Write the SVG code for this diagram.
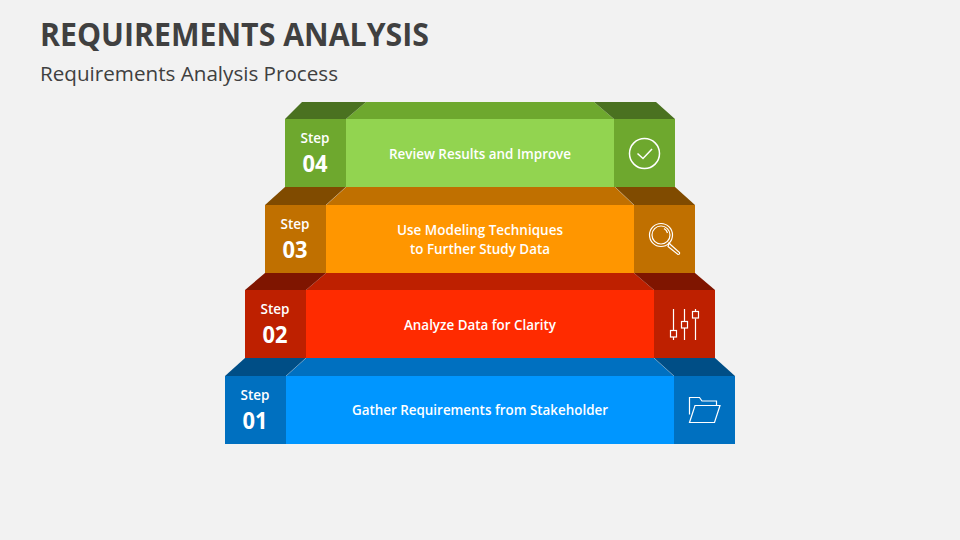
<svg xmlns="http://www.w3.org/2000/svg" width="960" height="540" viewBox="0 0 960 540">
<style>
text{font-family:"Open Sans","Noto Sans","Liberation Sans",sans-serif;fill:#fff;text-anchor:middle}
.title{font-size:32.5px;font-weight:700;fill:#404040;text-anchor:start}
.sub{font-size:20px;fill:#404040;text-anchor:start}
.step{font-size:14px;font-weight:600}
.num{font-size:22.5px;font-weight:700}
.lab{font-size:14px;font-weight:600}
.ic{fill:none;stroke:#fff;stroke-width:1.2}
.seam{stroke:#fff;stroke-opacity:.35;stroke-width:.7;fill:none}
</style>
<rect width="960" height="540" fill="#f2f2f2"/>
<text class="title" x="40" y="46" textLength="389" lengthAdjust="spacingAndGlyphs">REQUIREMENTS ANALYSIS</text>
<text class="sub" x="40" y="80.500" textLength="298" lengthAdjust="spacingAndGlyphs">Requirements Analysis Process</text>

<g id="step-01">
<polygon points="306,358 654,358 674,376 286,376" fill="#0070c0"/>
<polygon points="245,358 306,358 286,376 225,376" fill="#004e86"/>
<polygon points="654,358 715,358 735,376 674,376" fill="#004e86"/>
<path class="seam" d="M306 358L286 376M654 358L674 376"/>
<rect x="286" y="376" width="388" height="68" fill="#0096ff"/>
<rect x="225" y="376" width="61" height="68" fill="#0070c0"/>
<rect x="674" y="376" width="61" height="68" fill="#0070c0"/>
<text class="step" x="255" y="400.300" textLength="29" lengthAdjust="spacingAndGlyphs">Step</text>
<text class="num" x="255" y="428.500" textLength="25" lengthAdjust="spacingAndGlyphs">01</text>
<text class="lab" x="480" y="415" textLength="256" lengthAdjust="spacingAndGlyphs">Gather Requirements from Stakeholder</text>
<path class="ic" d="M689.500 414.500V397.500H699.500L702 401H716.500V405M689.500 422.500L695 405.500H720L714.500 422.500Z"/>
</g>

<g id="step-02">
<polygon points="326,273 634,273 654,290 306,290" fill="#be2000"/>
<polygon points="265,273 326,273 306,290 245,290" fill="#7f1500"/>
<polygon points="634,273 695,273 715,290 654,290" fill="#7f1500"/>
<rect x="306" y="290" width="348" height="68" fill="#ff2b00"/>
<rect x="245" y="290" width="61" height="68" fill="#be2000"/>
<rect x="654" y="290" width="61" height="68" fill="#be2000"/>
<text class="step" x="275" y="314.300" textLength="29" lengthAdjust="spacingAndGlyphs">Step</text>
<text class="num" x="275" y="342.500" textLength="25" lengthAdjust="spacingAndGlyphs">02</text>
<text class="lab" x="480" y="329.500" textLength="152" lengthAdjust="spacingAndGlyphs">Analyze Data for Clarity</text>
<path class="ic" d="M673.500 309V330M673.500 337V340M684.500 309V321M684.500 328V340M695.500 309V311.500M695.500 318.500V340"/>
<rect class="ic" x="670.500" y="330.500" width="6" height="6.500"/>
<rect class="ic" x="681.500" y="321.500" width="6" height="6.500"/>
<rect class="ic" x="692.500" y="311.500" width="6" height="6.500"/>
</g>

<g id="step-03">
<polygon points="346,187 615,187 634,205 326,205" fill="#c07000"/>
<polygon points="285,187 346,187 326,205 265,205" fill="#804b00"/>
<polygon points="615,187 675,187 695,205 634,205" fill="#804b00"/>
<path class="seam" d="M346 187L326 205M615 187L634 205"/>
<rect x="326" y="205" width="308" height="68" fill="#ff9600"/>
<rect x="265" y="205" width="61" height="68" fill="#c07000"/>
<rect x="634" y="205" width="61" height="68" fill="#c07000"/>
<text class="step" x="295" y="229.300" textLength="29" lengthAdjust="spacingAndGlyphs">Step</text>
<text class="num" x="295" y="257.500" textLength="25" lengthAdjust="spacingAndGlyphs">03</text>
<text class="lab" x="480" y="235" textLength="166" lengthAdjust="spacingAndGlyphs">Use Modeling Techniques</text>
<text class="lab" x="480" y="254" textLength="140" lengthAdjust="spacingAndGlyphs">to Further Study Data</text>
<g class="ic">
<circle cx="661" cy="235" r="11.500"/>
<circle cx="661" cy="235" r="9"/>
<path d="M664 228.500A7 7 0 0 1 667.500 233"/>
<path d="M669 243L671 245L679.500 252.500Q680 254.500 678 254.500L668 246.500Z"/>
</g>
</g>

<g id="step-04">
<polygon points="366,102 594,102 614,119 346,119" fill="#6ea82e"/>
<polygon points="302,102 366,102 346,119 285,119" fill="#4a7120"/>
<polygon points="594,102 656,102 675,119 614,119" fill="#4a7120"/>
<rect x="346" y="119" width="268" height="68" fill="#92d450"/>
<rect x="285" y="119" width="61" height="68" fill="#6ea82e"/>
<rect x="614" y="119" width="61" height="68" fill="#6ea82e"/>
<text class="step" x="315" y="143.300" textLength="29" lengthAdjust="spacingAndGlyphs">Step</text>
<text class="num" x="315" y="171.500" textLength="25" lengthAdjust="spacingAndGlyphs">04</text>
<text class="lab" x="480" y="158.500" textLength="182" lengthAdjust="spacingAndGlyphs">Review Results and Improve</text>
<circle class="ic" cx="644.500" cy="153.500" r="15" style="stroke-width:1.500"/>
<path class="ic" d="M637.500 153.500L643 158.500L652 149" style="stroke-width:1.500"/>
</g>
</svg>
